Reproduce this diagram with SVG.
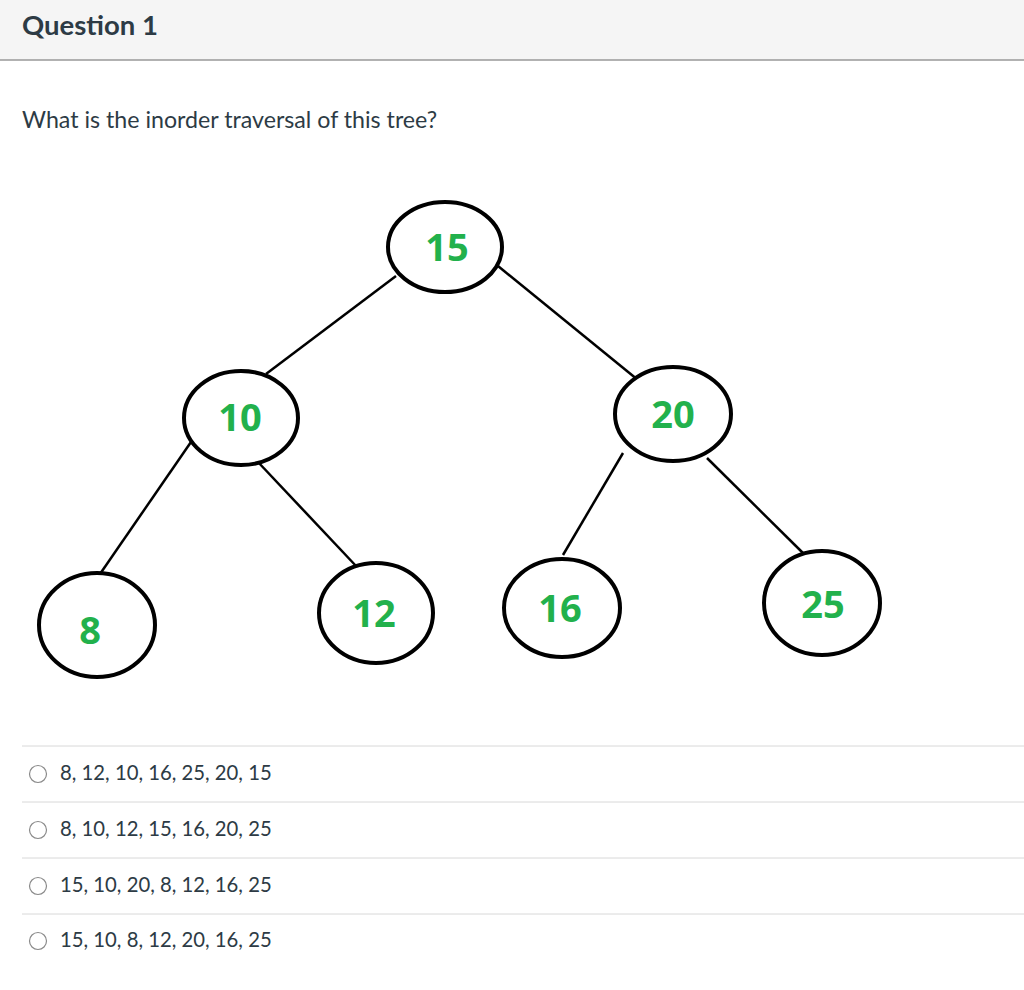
<svg xmlns="http://www.w3.org/2000/svg" width="1024" height="990" viewBox="0 0 1024 990">
<style>
.n ellipse{fill:#fff;stroke:#000;stroke-width:4}
.n text{font-family:"Open Sans","DejaVu Sans",sans-serif;font-weight:bold;font-size:38px;fill:#22b14c;text-anchor:middle}
.e line{stroke:#000;stroke-width:2.5}
.o{font-family:Lato,"Liberation Sans",sans-serif;font-size:20.3px;fill:#2d3b45}
.r{fill:#fff;stroke:#8a8a8a;stroke-width:1.2}
.s{stroke:#d8d8d8;stroke-width:1}
</style>
<rect width="1024" height="990" fill="#fff"/>
<rect width="1024" height="60" fill="#f5f5f5"/>
<line x1="0" y1="60" x2="1024" y2="60" stroke="#999" stroke-width="1.5"/>
<text x="22" y="35" font-family="Lato,'Liberation Sans',sans-serif" font-weight="bold" font-size="27.5" fill="#2d3b45">Question 1</text>
<text x="22" y="128" font-family="Lato,'Liberation Sans',sans-serif" font-size="23.2" fill="#2d3b45">What is the inorder traversal of this tree?</text>
<g class="e">
<line x1="396" y1="276" x2="266" y2="374"/>
<line x1="498" y1="266" x2="638" y2="380"/>
<line x1="191" y1="442" x2="100" y2="574"/>
<line x1="258" y1="462" x2="357" y2="567"/>
<line x1="623" y1="453" x2="563" y2="555"/>
<line x1="707" y1="458" x2="805" y2="555"/>
</g>
<g id="n15" class="n"><ellipse cx="445" cy="247" rx="57" ry="45"/><text x="447" y="261">15</text></g>
<g id="n10" class="n"><ellipse cx="241" cy="418" rx="57" ry="47"/><text x="240" y="431" font-size="42">10</text></g>
<g id="n20" class="n"><ellipse cx="673" cy="414" rx="58" ry="47"/><text x="673" y="428">20</text></g>
<g id="n8" class="n"><ellipse cx="97" cy="625" rx="58" ry="52"/><text x="90" y="644">8</text></g>
<g id="n12" class="n"><ellipse cx="376" cy="613" rx="57" ry="50"/><text x="374" y="627">12</text></g>
<g id="n16" class="n"><ellipse cx="562" cy="608" rx="58" ry="49"/><text x="560" y="622">16</text></g>
<g id="n25" class="n"><ellipse cx="822" cy="603" rx="58" ry="52"/><text x="823" y="618">25</text></g>
<line class="s" x1="22" y1="746" x2="1024" y2="746"/>
<line class="s" x1="22" y1="802" x2="1024" y2="802"/>
<line class="s" x1="22" y1="858" x2="1024" y2="858"/>
<line class="s" x1="22" y1="914" x2="1024" y2="914"/>
<circle class="r" cx="38" cy="774" r="8.5"/><text class="o" x="60" y="780">8, 12, 10, 16, 25, 20, 15</text>
<circle class="r" cx="38" cy="830" r="8.5"/><text class="o" x="60" y="836">8, 10, 12, 15, 16, 20, 25</text>
<circle class="r" cx="38" cy="886" r="8.5"/><text class="o" x="60" y="892">15, 10, 20, 8, 12, 16, 25</text>
<circle class="r" cx="38" cy="941" r="8.5"/><text class="o" x="60" y="947">15, 10, 8, 12, 20, 16, 25</text>
</svg>
